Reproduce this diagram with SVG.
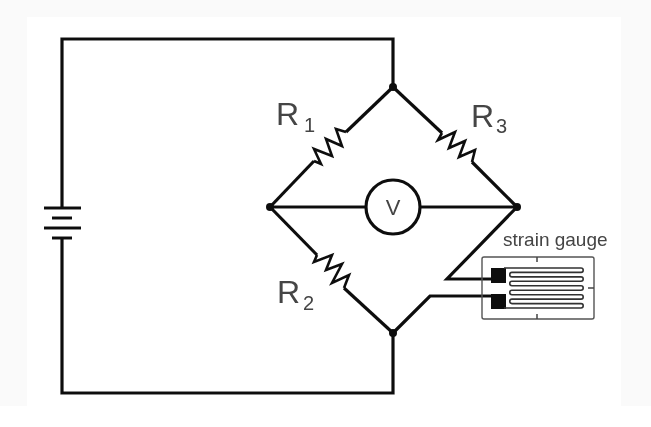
<svg xmlns="http://www.w3.org/2000/svg" width="651" height="427" viewBox="0 0 651 427">
<defs><filter id="soft" filterUnits="userSpaceOnUse" x="0" y="0" width="651" height="427"><feGaussianBlur stdDeviation="0.55"/></filter></defs>
<style>
.w{fill:none;stroke:#111;stroke-width:3.200;stroke-linejoin:miter}
.z{fill:none;stroke:#111;stroke-width:2.600;stroke-linejoin:miter}
.dot{fill:#111}
.t{font-family:"Liberation Sans",Arial,sans-serif;fill:#444}
.g{fill:none;stroke:#555;stroke-width:1.400}
.m{fill:none;stroke:#444;stroke-width:1.500}
.s{fill:none;stroke:#333;stroke-width:1.600}
</style>
<rect width="651" height="427" fill="#fafafa"/>
<rect x="27" y="17" width="594" height="389" fill="#fff"/>
<rect y="406" width="651" height="21" fill="#fff"/>
<g filter="url(#soft)">
<g id="connectors">
<path class="w" d="M62 208V39H393V87"/>
<path class="w" d="M62 238V393H393V333"/>
<path class="w" d="M393 87L346 132"/>
<path class="z" d="M346 132L336 129L342 146L326 139L332 156L314 149L321 164L314 161"/>
<path class="w" d="M314 161L270 207"/>
<path class="w" d="M393 87L442 133"/>
<path class="z" d="M442 133L438 140L455 132L449 148L465 141L459 157L475 150L472 162"/>
<path class="w" d="M472 162L517 207"/>
<path class="w" d="M270 207L317 255"/>
<path class="z" d="M317 255L314 262L332 255L326 270L342 264L332 283L349 275L344 288"/>
<path class="w" d="M344 288L393 333"/>
<path class="w" d="M393 333L430 296H491"/>
<path class="w" d="M517 207L447 279H491"/>
<path class="w" d="M270 207H366"/>
<path class="w" d="M420 207H517"/>
</g>
<g id="battery">
<path class="w" d="M44 208H81M52 218H72M44 228H81M52 238H72"/>
</g>
<g id="junctions">
<circle class="dot" cx="393" cy="87" r="4"/>
<circle class="dot" cx="270" cy="207" r="4"/>
<circle class="dot" cx="517" cy="207" r="4"/>
<circle class="dot" cx="393" cy="333" r="4"/>
</g>
<g id="voltmeter">
<circle cx="393" cy="207" r="27" fill="#fff" stroke="#111" stroke-width="3.200"/>
<text class="t" x="393" y="215" font-size="22" text-anchor="middle">V</text>
</g>
<g id="r1"><text class="t" x="276" y="125" font-size="32">R</text><text class="t" x="304" y="132" font-size="20">1</text></g>
<g id="r3"><text class="t" x="471" y="127" font-size="32">R</text><text class="t" x="496" y="133" font-size="20">3</text></g>
<g id="r2"><text class="t" x="277" y="303" font-size="32">R</text><text class="t" x="303" y="310" font-size="20">2</text></g>
<g id="strain-gauge">
<rect class="g" x="482" y="257" width="112" height="62" rx="2"/>
<path class="m" d="M537 257V262M537 314V319M588 288H594"/>
<rect x="491" y="268" width="15" height="15" fill="#111"/>
<rect x="491" y="294" width="15" height="15" fill="#111"/>
<path class="s" d="M504 268H581A2.200 2.200 0 0 1 581 272.400H512A2.200 2.200 0 0 0 512 276.900H581A2.200 2.200 0 0 1 581 281.300H512A2.200 2.200 0 0 0 512 285.800H581A2.200 2.200 0 0 1 581 290.200H512A2.200 2.200 0 0 0 512 294.700H581A2.200 2.200 0 0 1 581 299.100H512A2.200 2.200 0 0 0 512 303.600H581A2.200 2.200 0 0 1 581 308H504"/>
<text class="t" x="503" y="246" font-size="19">strain gauge</text>
</g>
</g>
</svg>
